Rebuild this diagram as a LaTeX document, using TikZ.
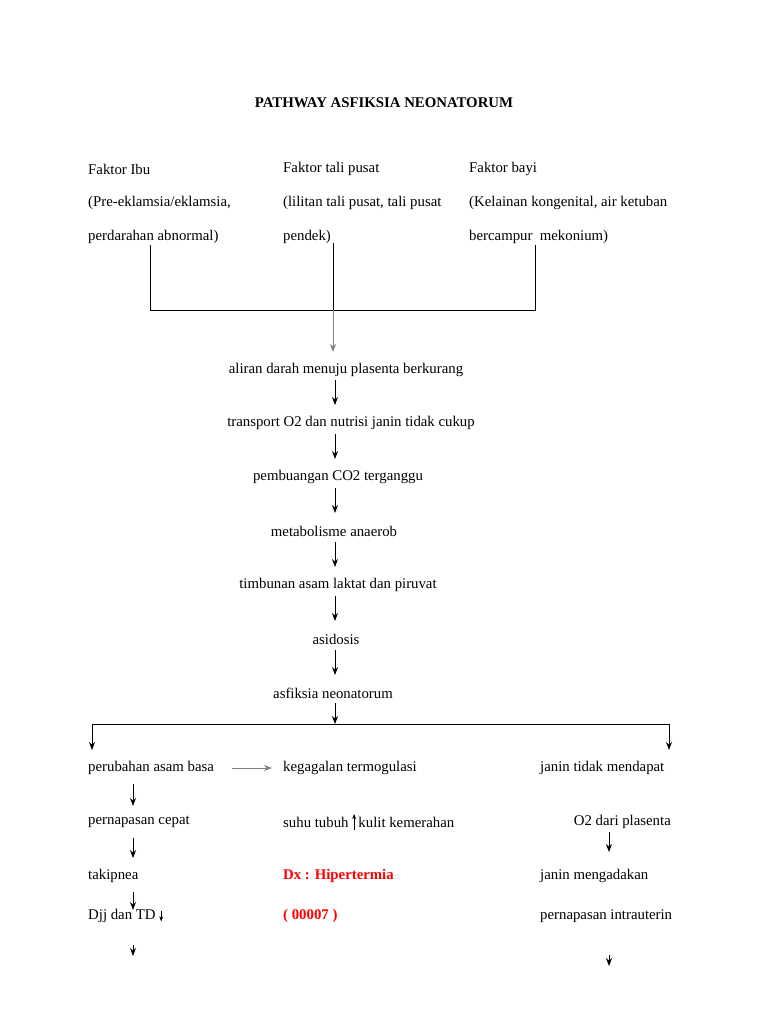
\documentclass[tikz,border=0pt]{standalone}
\usepackage{fontspec}
\setmainfont{Liberation Serif}
\usetikzlibrary{arrows.meta}
\begin{document}
\begin{tikzpicture}[x=1pt,y=-1pt,
 t/.style={anchor=west,inner sep=0pt,font=\fontsize{14.8}{17}\selectfont},
 c/.style={inner sep=0pt,font=\fontsize{14.8}{17}\selectfont},
 r/.style={t,text=red,font=\fontsize{14.8}{17}\selectfont\bfseries},
 ln/.style={line width=0.8pt},
 ar/.style={ln,-{Stealth[length=8pt,width=6pt]}}]
\useasboundingbox (0,0) rectangle (768,1024);
\node[c,font=\fontsize{14.8}{17}\selectfont\bfseries] (title) at (384,103) {PATHWAY ASFIKSIA NEONATORUM};
\node[t] (a1) at (88,169) {Faktor Ibu};
\node[t] (a2) at (88,203) {(Pre-eklamsia/eklamsia,};
\node[t] (a3) at (88,237) {perdarahan abnormal)};
\node[t] (b1) at (283,169) {Faktor tali pusat};
\node[t] (b2) at (283,203) {(lilitan tali pusat, tali pusat};
\node[t] (b3) at (283,237) {pendek)};
\node[t] (d1) at (469,169) {Faktor bayi};
\node[t] (d2) at (469,203) {(Kelainan kongenital, air ketuban};
\node[t] (d3) at (469,237) {bercampur\ \ mekonium)};
\coordinate (pa) at (150,245); \coordinate (pa2) at (150,310);
\coordinate (pb) at (333,243); \coordinate (pb2) at (333,310);
\coordinate (pd) at (535,245); \coordinate (pd2) at (535,310);
\draw[ln] (pa)--(pa2)--(pd2)--(pd); \draw[ln] (pb)--(pb2);
\node[c] (n1) at (346,370) {aliran darah menuju plasenta berkurang};
\node[c] (n2) at (351,423) {transport O2 dan nutrisi janin tidak cukup};
\node[c] (n3) at (338,477) {pembuangan CO2 terganggu};
\node[c] (n4) at (334,531) {metabolisme anaerob};
\node[c] (n5) at (338,585) {timbunan asam laktat dan piruvat};
\node[c] (n6) at (336,639) {asidosis};
\node[c] (n7) at (333,693) {asfiksia neonatorum};
\draw[ar,gray] (pb2)--(333,352);
\draw[ar] (335,380)--(335,405);
\draw[ar] (335,434)--(335,459);
\draw[ar] (335,488)--(335,513);
\draw[ar] (335,542)--(335,567);
\draw[ar] (335,596)--(335,621);
\draw[ar] (335,650)--(335,675);
\coordinate (s) at (335,724); \coordinate (sl) at (92,724); \coordinate (sr) at (669,724);
\draw[ar] (335,703)--(s);
\draw[ln] (sl)--(sr);
\draw[ar] (sl)--(92,750); \draw[ar] (sr)--(669,750);
\node[t] (l1) at (88,768) {perubahan asam basa};
\node[t] (l2) at (88,822) {pernapasan cepat};
\node[t] (l3) at (88,876) {takipnea};
\node[t] (l4) at (88,916) {Djj dan TD \raisebox{-2pt}{\tikz\draw[-{Stealth[length=5pt]}] (0,7pt)--(0,-3pt);}};
\node[t] (m1) at (283,768) {kegagalan termogulasi};
\node[t] (m2) at (283,822) {suhu tubuh \raisebox{-3pt}{\tikz\draw[-{Stealth[length=5pt]}] (0,-3pt)--(0,13pt);}\,kulit kemerahan};
\node[r] (m3) at (283,876) {Dx : Hipertermia};
\node[r] (m4) at (283,916) {( 00007 )};
\node[t] (q1) at (540,768) {janin tidak mendapat};
\node[t,anchor=east] (q2) at (671,822) {O2 dari plasenta};
\node[t] (q3) at (540,876) {janin mengadakan};
\node[t] (q4) at (540,916) {pernapasan intrauterin};
\draw[ar,gray] (232,768)--(m1.west-|272,768);
\draw[ar] (133,784)--(133,806);
\draw[ar] (133,838)--(133,858);
\draw[ar] (133,892)--(133,910);
\draw[ar] (133,945)--(133,956);
\draw[ar] (609,832)--(609,852);
\draw[ar] (609,955)--(609,966);
\end{tikzpicture}
\end{document}
